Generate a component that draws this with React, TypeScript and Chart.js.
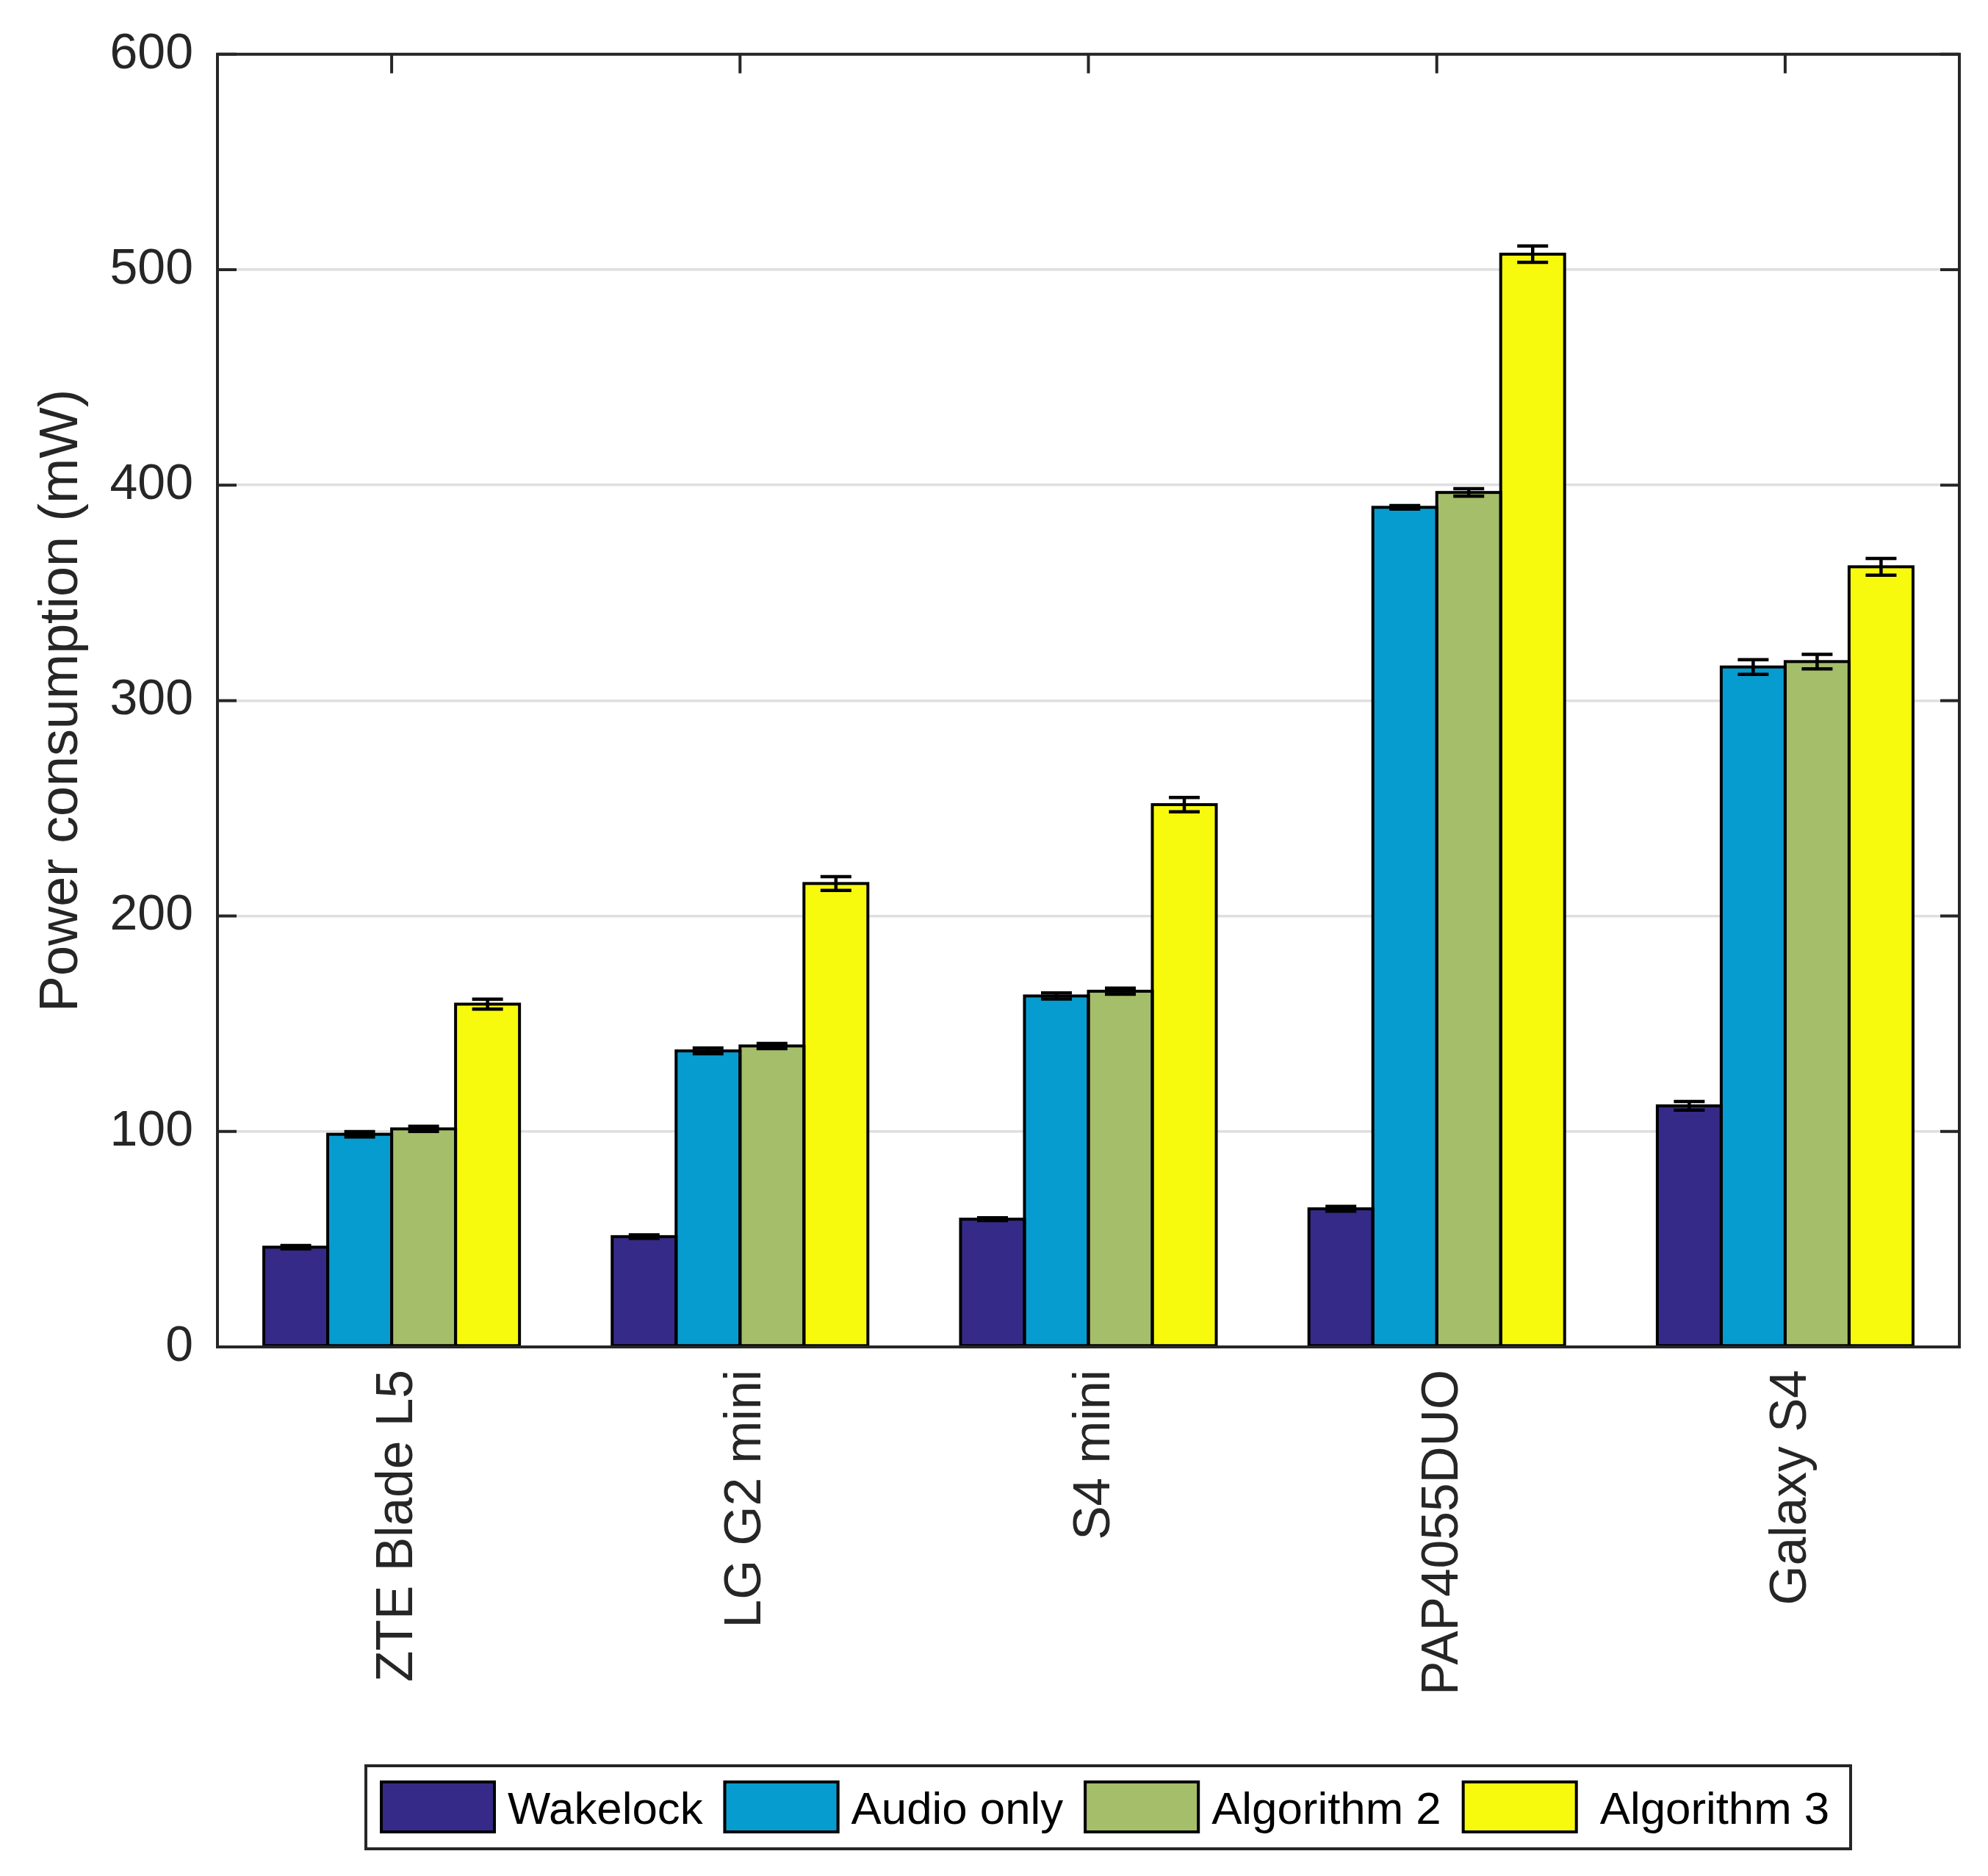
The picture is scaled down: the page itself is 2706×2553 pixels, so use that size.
import { useEffect, useRef } from 'react';
import { Chart, registerables } from 'chart.js';

Chart.register(...registerables);

const devices = ['ZTE Blade L5', 'LG G2 mini', 'S4 mini', 'PAP4055DUO', 'Galaxy S4'];
const seriesNames = ['Wakelock', 'Audio only', 'Algorithm 2', 'Algorithm 3'];
const seriesColors = ['#352a87', '#079cd0', '#a5be6a', '#f8fa0d'];

const wakelock = [46.3, 51.2, 59.3, 64.1, 111.9];
const audioOnly = [98.7, 137.4, 162.9, 389.7, 315.6];
const algorithm2 = [101.2, 139.7, 165.1, 396.6, 318.1];
const algorithm3 = [159.1, 215.1, 251.7, 507.2, 362.1];

const wakelockErr = [0.8, 0.8, 0.6, 1.1, 2.0];
const audioOnlyErr = [1.2, 1.3, 1.4, 0.8, 3.4];
const algorithm2Err = [1.2, 1.2, 1.4, 1.75, 3.35];
const algorithm3Err = [2.3, 3.2, 3.3, 3.8, 3.9];

const yMin = 0;
const yMax = 600;
const yStep = 100;

const FONT = '"Liberation Sans", Arial, Helvetica, sans-serif';
const AXIS = '#262626';

const seriesValues = [wakelock, audioOnly, algorithm2, algorithm3];
const seriesErrors = [wakelockErr, audioOnlyErr, algorithm2Err, algorithm3Err];

// MATLAB-like box, inward ticks, outlined bars, error bars, rotated labels and framed legend
const matlabLook = {
  id: 'matlabLook',
  beforeDatasetsDraw(chart: any) {
    const { ctx, chartArea: a, scales } = chart;
    const x = scales.x;
    const y = scales.y;
    ctx.save();
    ctx.strokeStyle = AXIS;
    ctx.lineWidth = 4;
    ctx.beginPath();
    y.ticks.forEach((t: any) => {
      const py = y.getPixelForValue(t.value);
      ctx.moveTo(a.left, py);
      ctx.lineTo(a.left + 26, py);
      ctx.moveTo(a.right, py);
      ctx.lineTo(a.right - 26, py);
    });
    devices.forEach((_, i) => {
      const px = x.getPixelForValue(i);
      ctx.moveTo(px, a.top);
      ctx.lineTo(px, a.top + 26);
      ctx.moveTo(px, a.bottom);
      ctx.lineTo(px, a.bottom - 26);
    });
    ctx.stroke();
    ctx.restore();
  },
  afterDatasetsDraw(chart: any) {
    const { ctx, chartArea: a, scales } = chart;
    const y = scales.y;
    ctx.save();
    chart.data.datasets.forEach((ds: any, di: number) => {
      const meta = chart.getDatasetMeta(di);
      meta.data.forEach((bar: any, i: number) => {
        const { x: bx, y: by, base, width } = bar.getProps(['x', 'y', 'base', 'width'], true);
        ctx.strokeStyle = '#000';
        ctx.lineWidth = 4;
        ctx.strokeRect(bx - width / 2, by, width, base - by);

        const v = ds.data[i];
        const e = ds.errors[i];
        const hi = y.getPixelForValue(v + e);
        const lo = y.getPixelForValue(v - e);
        const cap = 21;
        ctx.lineWidth = 4.5;
        ctx.beginPath();
        ctx.moveTo(bx, hi);
        ctx.lineTo(bx, lo);
        ctx.moveTo(bx - cap, hi);
        ctx.lineTo(bx + cap, hi);
        ctx.moveTo(bx - cap, lo);
        ctx.lineTo(bx + cap, lo);
        ctx.stroke();
      });
    });
    ctx.strokeStyle = AXIS;
    ctx.lineWidth = 4;
    ctx.strokeRect(a.left, a.top, a.right - a.left, a.bottom - a.top);
    ctx.restore();
  },
  afterDraw(chart: any) {
    const { ctx, chartArea: a, scales } = chart;
    const x = scales.x;
    ctx.save();

    // category labels, rotated
    ctx.fillStyle = AXIS;
    ctx.font = `69.5px ${FONT}`;
    ctx.textAlign = 'right';
    ctx.textBaseline = 'alphabetic';
    chart.data.labels.forEach((label: string, i: number) => {
      const px = x.getPixelForValue(i);
      ctx.save();
      ctx.translate(px + 28, a.bottom + 31);
      ctx.rotate(-Math.PI / 2);
      ctx.fillText(label, 0, 0);
      ctx.restore();
    });

    // legend
    const frameLeft = 498;
    const frameTop = 2403;
    const frameW = 2021;
    const frameH = 113;
    ctx.fillStyle = '#fff';
    ctx.fillRect(frameLeft, frameTop, frameW, frameH);
    ctx.strokeStyle = AXIS;
    ctx.lineWidth = 4;
    ctx.strokeRect(frameLeft, frameTop, frameW, frameH);

    ctx.font = `61.8px ${FONT}`;
    ctx.textAlign = 'left';
    ctx.textBaseline = 'alphabetic';
    let cx = 517;
    const n = chart.data.datasets.length;
    chart.data.datasets.forEach((ds: any, k: number) => {
      ctx.fillStyle = ds.backgroundColor;
      ctx.fillRect(cx, 2423, 158, 72);
      ctx.strokeStyle = '#000';
      ctx.lineWidth = 4;
      ctx.strokeRect(cx + 2, 2425, 154, 68);
      cx += 158 + (k === n - 1 ? 30 : 16);
      ctx.fillStyle = '#000';
      ctx.fillText(ds.label, cx, 2482);
      cx += ctx.measureText(ds.label).width + 28;
    });
    ctx.restore();
  },
};

const App = () => {
  const chartRef = useRef<HTMLCanvasElement | null>(null);
  const chartInstanceRef = useRef<Chart | null>(null);

  useEffect(() => {
    const ctx = chartRef.current?.getContext('2d');
    if (!ctx) return;

    if (chartInstanceRef.current) {
      chartInstanceRef.current.destroy();
    }

    chartInstanceRef.current = new Chart(ctx, {
      type: 'bar',
      data: {
        labels: devices,
        datasets: seriesNames.map((name, k) => ({
          label: name,
          data: seriesValues[k],
          errors: seriesErrors[k],
          backgroundColor: seriesColors[k],
          borderWidth: 0,
          categoryPercentage: 0.734,
          barPercentage: 1,
        })) as any,
      },
      options: {
        responsive: false,
        animation: false,
        devicePixelRatio: 1,
        layout: {
          padding: { left: 0, top: 71, right: 39, bottom: 0 },
        },
        plugins: {
          legend: { display: false },
          title: { display: false },
          tooltip: { enabled: false },
        },
        scales: {
          x: {
            grid: { display: false },
            border: { display: false },
            ticks: { display: false },
            afterFit: (scale: any) => {
              scale.height = 720;
            },
          },
          y: {
            min: yMin,
            max: yMax,
            ticks: {
              stepSize: yStep,
              padding: 33,
              color: AXIS,
              font: { family: FONT, size: 68 },
            },
            grid: {
              color: '#dfdfdf',
              lineWidth: 3.5,
              drawTicks: false,
            },
            border: { display: false },
            title: {
              display: true,
              text: 'Power consumption (mW)',
              color: AXIS,
              font: { family: FONT, size: 73.7 },
              padding: { top: 40, bottom: 0 },
            },
            afterFit: (scale: any) => {
              scale.width = 296;
            },
          },
        },
      },
      plugins: [matlabLook],
    });

    return () => {
      if (chartInstanceRef.current) {
        chartInstanceRef.current.destroy();
        chartInstanceRef.current = null;
      }
    };
  }, []);

  return (
    <div style={{ position: 'absolute', left: 0, top: 0, width: 2706, height: 2553, background: '#fff' }}>
      <canvas ref={chartRef} width={2706} height={2553} style={{ width: 2706, height: 2553 }}></canvas>
    </div>
  );
};

export default App;
